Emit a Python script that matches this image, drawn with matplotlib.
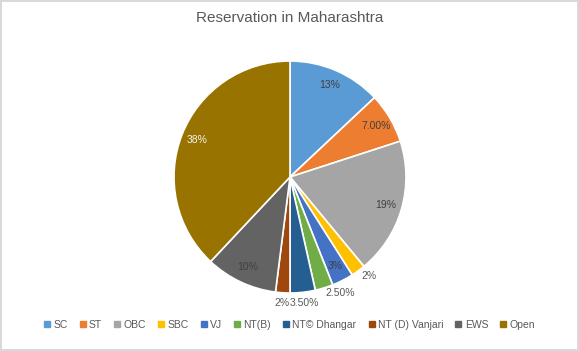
import numpy as np
import matplotlib
matplotlib.use("Agg")
import matplotlib.pyplot as plt
from matplotlib.lines import Line2D

plt.rcParams['font.family'] = ['Liberation Sans', 'DejaVu Sans']

# data
categories = ["SC", "ST", "OBC", "SBC", "VJ", "NT(B)", "NT\u00a9 Dhangar",
              "NT (D) Vanjari", "EWS", "Open"]
shares = [13, 7, 19, 2, 3, 2.5, 3.5, 2, 10, 38]
pct_labels = ["13%", "7.00%", "19%", "2%", "3%", "2.50%", "3.50%", "2%", "10%", "38%"]
outside = [False, False, False, True, False, True, True, True, False, False]
colors = ["#5B9BD5", "#ED7D31", "#A5A5A5", "#FFC000", "#4472C4",
          "#70AD47", "#255E91", "#9E480E", "#636363", "#997300"]

fig = plt.figure(figsize=(5.79, 3.51), dpi=100)
fig.patch.set_facecolor("white")
fig.patch.set_edgecolor("#D9D9D9")
fig.patch.set_linewidth(1.5)

W, H = 579, 351
cx, cy, r = 290, 351 - 177, 116
ax = fig.add_axes([(cx - r) / W, (cy - r) / H, 2 * r / W, 2 * r / H])

wedges, _ = ax.pie(shares, colors=colors, startangle=90, counterclock=False,
                   wedgeprops=dict(edgecolor="white", linewidth=1.2))
ax.set_xlim(-1, 1)
ax.set_ylim(-1, 1)
ax.set_aspect("equal")
ax.axis("off")

# data labels (small slices get theirs outside, like Excel's best fit)
for w, txt, out, col in zip(wedges, pct_labels, outside, colors):
    mid = np.deg2rad((w.theta1 + w.theta2) / 2)
    ha = "center"
    if out:
        tc = "#595959"
        d = 1.09
        if np.cos(mid) > 0.25:
            ha, d = "left", 1.05
    else:
        d = 0.86
        tc = "#F2F2F2" if col == "#997300" else "#404040"
    ax.text(d * np.cos(mid), d * np.sin(mid), txt, ha=ha, va="center",
            fontsize=7.5, color=tc, clip_on=False)

fig.text(0.5, 1 - 18 / H, "Reservation in Maharashtra", ha="center", va="center",
         fontsize=11, color="#595959")

handles = [Line2D([], [], marker="s", linestyle="", markersize=4,
                  markerfacecolor=c, markeredgecolor=c) for c in colors]
fig.legend(handles, categories, loc="center", bbox_to_anchor=(0.5, 1 - 325 / H),
           ncol=len(categories), frameon=False, fontsize=7.5,
           handlelength=0.6, handletextpad=0.3, columnspacing=1.15,
           labelcolor="#595959")

fig.savefig("out.png", dpi=100)
